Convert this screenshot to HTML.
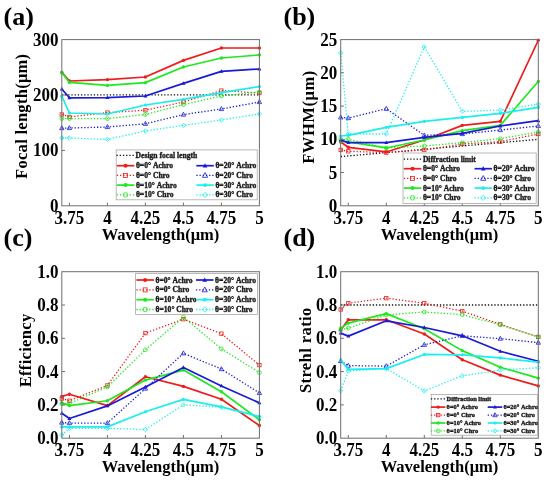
<!DOCTYPE html>
<html><head><meta charset="utf-8"><style>
html,body{margin:0;padding:0;background:#fff;width:550px;height:482px;overflow:hidden}
svg{display:block}
text{font-family:'Liberation Serif', 'Times New Roman', serif;font-weight:bold;fill:#000}
.t{font-size:17px}
.al{font-size:16.5px}
.pl{font-size:26px}
.lg{fill:#1a1a1a;stroke:#1a1a1a;stroke-width:0.35px}
</style></head><body>
<svg width="550" height="482" viewBox="0 0 550 482">
<rect width="550" height="482" fill="#fff"/>
<rect x="61.80" y="39.60" width="197.60" height="166.20" fill="#fff" stroke="none"/>
<rect x="340.70" y="39.60" width="197.60" height="166.20" fill="#fff" stroke="none"/>
<rect x="61.80" y="271.70" width="197.60" height="166.50" fill="#fff" stroke="none"/>
<rect x="340.70" y="271.70" width="197.60" height="166.50" fill="#fff" stroke="none"/>
<line x1="61.80" y1="94.90" x2="259.40" y2="94.90" stroke="#111" stroke-width="1.3" stroke-dasharray="1.3 1.9"/>
<path d="M61.80,72.40 L69.40,81.00 L107.40,79.60 L145.40,77.00 L183.40,60.40 L221.40,48.00 L259.40,48.00" fill="none" stroke="#ee1c1c" stroke-width="1.7" stroke-linejoin="round"/><circle cx="61.80" cy="72.40" r="1.70" fill="#ee1c1c"/><circle cx="69.40" cy="81.00" r="1.70" fill="#ee1c1c"/><circle cx="107.40" cy="79.60" r="1.70" fill="#ee1c1c"/><circle cx="145.40" cy="77.00" r="1.70" fill="#ee1c1c"/><circle cx="183.40" cy="60.40" r="1.70" fill="#ee1c1c"/><circle cx="221.40" cy="48.00" r="1.70" fill="#ee1c1c"/><circle cx="259.40" cy="48.00" r="1.70" fill="#ee1c1c"/>
<path d="M61.80,114.50 L69.40,117.00 L107.40,112.60 L145.40,110.20 L183.40,102.00 L221.40,90.60 L259.40,93.00" fill="none" stroke="#ee1c1c" stroke-width="1.3" stroke-dasharray="1.3 1.9"/><rect x="60.10" y="112.80" width="3.40" height="3.40" fill="none" stroke="#ee1c1c" stroke-width="0.8"/><rect x="67.70" y="115.30" width="3.40" height="3.40" fill="none" stroke="#ee1c1c" stroke-width="0.8"/><rect x="105.70" y="110.90" width="3.40" height="3.40" fill="none" stroke="#ee1c1c" stroke-width="0.8"/><rect x="143.70" y="108.50" width="3.40" height="3.40" fill="none" stroke="#ee1c1c" stroke-width="0.8"/><rect x="181.70" y="100.30" width="3.40" height="3.40" fill="none" stroke="#ee1c1c" stroke-width="0.8"/><rect x="219.70" y="88.90" width="3.40" height="3.40" fill="none" stroke="#ee1c1c" stroke-width="0.8"/><rect x="257.70" y="91.30" width="3.40" height="3.40" fill="none" stroke="#ee1c1c" stroke-width="0.8"/>
<path d="M61.80,72.40 L69.40,82.40 L107.40,85.40 L145.40,82.60 L183.40,67.00 L221.40,58.00 L259.40,55.00" fill="none" stroke="#1ee81e" stroke-width="1.7" stroke-linejoin="round"/><circle cx="61.80" cy="72.40" r="1.70" fill="#1ee81e"/><circle cx="69.40" cy="82.40" r="1.70" fill="#1ee81e"/><circle cx="107.40" cy="85.40" r="1.70" fill="#1ee81e"/><circle cx="145.40" cy="82.60" r="1.70" fill="#1ee81e"/><circle cx="183.40" cy="67.00" r="1.70" fill="#1ee81e"/><circle cx="221.40" cy="58.00" r="1.70" fill="#1ee81e"/><circle cx="259.40" cy="55.00" r="1.70" fill="#1ee81e"/>
<path d="M61.80,118.60 L69.40,118.60 L107.40,118.60 L145.40,114.50 L183.40,104.60 L221.40,96.00 L259.40,92.00" fill="none" stroke="#1ee81e" stroke-width="1.3" stroke-dasharray="1.3 1.9"/><circle cx="61.80" cy="118.60" r="1.90" fill="none" stroke="#1ee81e" stroke-width="0.8"/><circle cx="69.40" cy="118.60" r="1.90" fill="none" stroke="#1ee81e" stroke-width="0.8"/><circle cx="107.40" cy="118.60" r="1.90" fill="none" stroke="#1ee81e" stroke-width="0.8"/><circle cx="145.40" cy="114.50" r="1.90" fill="none" stroke="#1ee81e" stroke-width="0.8"/><circle cx="183.40" cy="104.60" r="1.90" fill="none" stroke="#1ee81e" stroke-width="0.8"/><circle cx="221.40" cy="96.00" r="1.90" fill="none" stroke="#1ee81e" stroke-width="0.8"/><circle cx="259.40" cy="92.00" r="1.90" fill="none" stroke="#1ee81e" stroke-width="0.8"/>
<path d="M61.80,89.00 L69.40,97.80 L107.40,97.60 L145.40,96.00 L183.40,83.40 L221.40,71.40 L259.40,69.00" fill="none" stroke="#1a1ad8" stroke-width="1.7" stroke-linejoin="round"/><path d="M61.80,86.84L63.78,90.44L59.82,90.44Z" fill="#1a1ad8"/><path d="M69.40,95.64L71.38,99.24L67.42,99.24Z" fill="#1a1ad8"/><path d="M107.40,95.44L109.38,99.04L105.42,99.04Z" fill="#1a1ad8"/><path d="M145.40,93.84L147.38,97.44L143.42,97.44Z" fill="#1a1ad8"/><path d="M183.40,81.24L185.38,84.84L181.42,84.84Z" fill="#1a1ad8"/><path d="M221.40,69.24L223.38,72.84L219.42,72.84Z" fill="#1a1ad8"/><path d="M259.40,66.84L261.38,70.44L257.42,70.44Z" fill="#1a1ad8"/>
<path d="M61.80,128.10 L69.40,128.00 L107.40,127.00 L145.40,123.80 L183.40,114.60 L221.40,109.00 L259.40,102.00" fill="none" stroke="#1a1ad8" stroke-width="1.3" stroke-dasharray="1.3 1.9"/><path d="M61.80,125.70L64.00,129.70L59.60,129.70Z" fill="none" stroke="#1a1ad8" stroke-width="0.8"/><path d="M69.40,125.60L71.60,129.60L67.20,129.60Z" fill="none" stroke="#1a1ad8" stroke-width="0.8"/><path d="M107.40,124.60L109.60,128.60L105.20,128.60Z" fill="none" stroke="#1a1ad8" stroke-width="0.8"/><path d="M145.40,121.40L147.60,125.40L143.20,125.40Z" fill="none" stroke="#1a1ad8" stroke-width="0.8"/><path d="M183.40,112.20L185.60,116.20L181.20,116.20Z" fill="none" stroke="#1a1ad8" stroke-width="0.8"/><path d="M221.40,106.60L223.60,110.60L219.20,110.60Z" fill="none" stroke="#1a1ad8" stroke-width="0.8"/><path d="M259.40,99.60L261.60,103.60L257.20,103.60Z" fill="none" stroke="#1a1ad8" stroke-width="0.8"/>
<path d="M61.80,96.20 L69.40,113.00 L107.40,114.00 L145.40,105.00 L183.40,99.40 L221.40,92.60 L259.40,86.60" fill="none" stroke="#1ceeee" stroke-width="1.7" stroke-linejoin="round"/><circle cx="61.80" cy="96.20" r="1.60" fill="#1ceeee"/><circle cx="69.40" cy="113.00" r="1.60" fill="#1ceeee"/><circle cx="107.40" cy="114.00" r="1.60" fill="#1ceeee"/><circle cx="145.40" cy="105.00" r="1.60" fill="#1ceeee"/><circle cx="183.40" cy="99.40" r="1.60" fill="#1ceeee"/><circle cx="221.40" cy="92.60" r="1.60" fill="#1ceeee"/><circle cx="259.40" cy="86.60" r="1.60" fill="#1ceeee"/>
<path d="M61.80,138.00 L69.40,138.00 L107.40,139.40 L145.40,131.00 L183.40,125.40 L221.40,120.00 L259.40,114.00" fill="none" stroke="#1ceeee" stroke-width="1.3" stroke-dasharray="1.3 1.9"/><path d="M61.80,135.80L64.00,138.00L61.80,140.20L59.60,138.00Z" fill="none" stroke="#1ceeee" stroke-width="0.8"/><path d="M69.40,135.80L71.60,138.00L69.40,140.20L67.20,138.00Z" fill="none" stroke="#1ceeee" stroke-width="0.8"/><path d="M107.40,137.20L109.60,139.40L107.40,141.60L105.20,139.40Z" fill="none" stroke="#1ceeee" stroke-width="0.8"/><path d="M145.40,128.80L147.60,131.00L145.40,133.20L143.20,131.00Z" fill="none" stroke="#1ceeee" stroke-width="0.8"/><path d="M183.40,123.20L185.60,125.40L183.40,127.60L181.20,125.40Z" fill="none" stroke="#1ceeee" stroke-width="0.8"/><path d="M221.40,117.80L223.60,120.00L221.40,122.20L219.20,120.00Z" fill="none" stroke="#1ceeee" stroke-width="0.8"/><path d="M259.40,111.80L261.60,114.00L259.40,116.20L257.20,114.00Z" fill="none" stroke="#1ceeee" stroke-width="0.8"/>
<line x1="340.70" y1="156.60" x2="538.30" y2="139.32" stroke="#111" stroke-width="1.3" stroke-dasharray="1.3 1.9"/>
<path d="M340.70,141.98 L348.30,147.30 L386.30,151.95 L424.30,139.98 L462.30,125.36 L500.30,121.37 L538.30,40.26" fill="none" stroke="#ee1c1c" stroke-width="1.7" stroke-linejoin="round"/><circle cx="340.70" cy="141.98" r="1.70" fill="#ee1c1c"/><circle cx="348.30" cy="147.30" r="1.70" fill="#ee1c1c"/><circle cx="386.30" cy="151.95" r="1.70" fill="#ee1c1c"/><circle cx="424.30" cy="139.98" r="1.70" fill="#ee1c1c"/><circle cx="462.30" cy="125.36" r="1.70" fill="#ee1c1c"/><circle cx="500.30" cy="121.37" r="1.70" fill="#ee1c1c"/><circle cx="538.30" cy="40.26" r="1.70" fill="#ee1c1c"/>
<path d="M340.70,149.96 L348.30,151.29 L386.30,152.62 L424.30,149.96 L462.30,143.97 L500.30,141.65 L538.30,134.00" fill="none" stroke="#ee1c1c" stroke-width="1.3" stroke-dasharray="1.3 1.9"/><rect x="339.00" y="148.26" width="3.40" height="3.40" fill="none" stroke="#ee1c1c" stroke-width="0.8"/><rect x="346.60" y="149.59" width="3.40" height="3.40" fill="none" stroke="#ee1c1c" stroke-width="0.8"/><rect x="384.60" y="150.92" width="3.40" height="3.40" fill="none" stroke="#ee1c1c" stroke-width="0.8"/><rect x="422.60" y="148.26" width="3.40" height="3.40" fill="none" stroke="#ee1c1c" stroke-width="0.8"/><rect x="460.60" y="142.27" width="3.40" height="3.40" fill="none" stroke="#ee1c1c" stroke-width="0.8"/><rect x="498.60" y="139.95" width="3.40" height="3.40" fill="none" stroke="#ee1c1c" stroke-width="0.8"/><rect x="536.60" y="132.30" width="3.40" height="3.40" fill="none" stroke="#ee1c1c" stroke-width="0.8"/>
<path d="M340.70,141.31 L348.30,141.98 L386.30,147.96 L424.30,139.98 L462.30,130.68 L500.30,125.36 L538.30,81.48" fill="none" stroke="#1ee81e" stroke-width="1.7" stroke-linejoin="round"/><circle cx="340.70" cy="141.31" r="1.70" fill="#1ee81e"/><circle cx="348.30" cy="141.98" r="1.70" fill="#1ee81e"/><circle cx="386.30" cy="147.96" r="1.70" fill="#1ee81e"/><circle cx="424.30" cy="139.98" r="1.70" fill="#1ee81e"/><circle cx="462.30" cy="130.68" r="1.70" fill="#1ee81e"/><circle cx="500.30" cy="125.36" r="1.70" fill="#1ee81e"/><circle cx="538.30" cy="81.48" r="1.70" fill="#1ee81e"/>
<path d="M340.70,139.32 L348.30,139.32 L386.30,147.96 L424.30,145.97 L462.30,142.64 L500.30,138.66 L538.30,132.01" fill="none" stroke="#1ee81e" stroke-width="1.3" stroke-dasharray="1.3 1.9"/><circle cx="340.70" cy="139.32" r="1.90" fill="none" stroke="#1ee81e" stroke-width="0.8"/><circle cx="348.30" cy="139.32" r="1.90" fill="none" stroke="#1ee81e" stroke-width="0.8"/><circle cx="386.30" cy="147.96" r="1.90" fill="none" stroke="#1ee81e" stroke-width="0.8"/><circle cx="424.30" cy="145.97" r="1.90" fill="none" stroke="#1ee81e" stroke-width="0.8"/><circle cx="462.30" cy="142.64" r="1.90" fill="none" stroke="#1ee81e" stroke-width="0.8"/><circle cx="500.30" cy="138.66" r="1.90" fill="none" stroke="#1ee81e" stroke-width="0.8"/><circle cx="538.30" cy="132.01" r="1.90" fill="none" stroke="#1ee81e" stroke-width="0.8"/>
<path d="M340.70,139.98 L348.30,142.64 L386.30,142.64 L424.30,137.33 L462.30,133.34 L500.30,126.02 L538.30,120.71" fill="none" stroke="#1a1ad8" stroke-width="1.7" stroke-linejoin="round"/><path d="M340.70,137.82L342.68,141.42L338.72,141.42Z" fill="#1a1ad8"/><path d="M348.30,140.48L350.28,144.08L346.32,144.08Z" fill="#1a1ad8"/><path d="M386.30,140.48L388.28,144.08L384.32,144.08Z" fill="#1a1ad8"/><path d="M424.30,135.17L426.28,138.77L422.32,138.77Z" fill="#1a1ad8"/><path d="M462.30,131.18L464.28,134.78L460.32,134.78Z" fill="#1a1ad8"/><path d="M500.30,123.86L502.28,127.46L498.32,127.46Z" fill="#1a1ad8"/><path d="M538.30,118.55L540.28,122.15L536.32,122.15Z" fill="#1a1ad8"/>
<path d="M340.70,117.38 L348.30,118.05 L386.30,108.74 L424.30,135.33 L462.30,134.00 L500.30,130.01 L538.30,126.02" fill="none" stroke="#1a1ad8" stroke-width="1.3" stroke-dasharray="1.3 1.9"/><path d="M340.70,114.98L342.90,118.98L338.50,118.98Z" fill="none" stroke="#1a1ad8" stroke-width="0.8"/><path d="M348.30,115.65L350.50,119.65L346.10,119.65Z" fill="none" stroke="#1a1ad8" stroke-width="0.8"/><path d="M386.30,106.34L388.50,110.34L384.10,110.34Z" fill="none" stroke="#1a1ad8" stroke-width="0.8"/><path d="M424.30,132.93L426.50,136.93L422.10,136.93Z" fill="none" stroke="#1a1ad8" stroke-width="0.8"/><path d="M462.30,131.60L464.50,135.60L460.10,135.60Z" fill="none" stroke="#1a1ad8" stroke-width="0.8"/><path d="M500.30,127.61L502.50,131.61L498.10,131.61Z" fill="none" stroke="#1a1ad8" stroke-width="0.8"/><path d="M538.30,123.62L540.50,127.62L536.10,127.62Z" fill="none" stroke="#1a1ad8" stroke-width="0.8"/>
<path d="M340.70,136.00 L348.30,135.33 L386.30,127.35 L424.30,121.37 L462.30,117.38 L500.30,113.39 L538.30,107.41" fill="none" stroke="#1ceeee" stroke-width="1.7" stroke-linejoin="round"/><circle cx="340.70" cy="136.00" r="1.60" fill="#1ceeee"/><circle cx="348.30" cy="135.33" r="1.60" fill="#1ceeee"/><circle cx="386.30" cy="127.35" r="1.60" fill="#1ceeee"/><circle cx="424.30" cy="121.37" r="1.60" fill="#1ceeee"/><circle cx="462.30" cy="117.38" r="1.60" fill="#1ceeee"/><circle cx="500.30" cy="113.39" r="1.60" fill="#1ceeee"/><circle cx="538.30" cy="107.41" r="1.60" fill="#1ceeee"/>
<path d="M340.70,52.90 L348.30,134.00 L386.30,134.00 L424.30,46.91 L462.30,111.40 L500.30,110.07 L538.30,104.09" fill="none" stroke="#1ceeee" stroke-width="1.3" stroke-dasharray="1.3 1.9"/><path d="M340.70,50.70L342.90,52.90L340.70,55.10L338.50,52.90Z" fill="none" stroke="#1ceeee" stroke-width="0.8"/><path d="M348.30,131.80L350.50,134.00L348.30,136.20L346.10,134.00Z" fill="none" stroke="#1ceeee" stroke-width="0.8"/><path d="M386.30,131.80L388.50,134.00L386.30,136.20L384.10,134.00Z" fill="none" stroke="#1ceeee" stroke-width="0.8"/><path d="M424.30,44.71L426.50,46.91L424.30,49.11L422.10,46.91Z" fill="none" stroke="#1ceeee" stroke-width="0.8"/><path d="M462.30,109.20L464.50,111.40L462.30,113.60L460.10,111.40Z" fill="none" stroke="#1ceeee" stroke-width="0.8"/><path d="M500.30,107.87L502.50,110.07L500.30,112.27L498.10,110.07Z" fill="none" stroke="#1ceeee" stroke-width="0.8"/><path d="M538.30,101.89L540.50,104.09L538.30,106.29L536.10,104.09Z" fill="none" stroke="#1ceeee" stroke-width="0.8"/>
<path d="M61.80,396.41 L69.40,394.24 L107.40,405.57 L145.40,376.76 L183.40,386.42 L221.40,399.24 L259.40,425.55" fill="none" stroke="#ee1c1c" stroke-width="1.7" stroke-linejoin="round"/><circle cx="61.80" cy="396.41" r="1.70" fill="#ee1c1c"/><circle cx="69.40" cy="394.24" r="1.70" fill="#ee1c1c"/><circle cx="107.40" cy="405.57" r="1.70" fill="#ee1c1c"/><circle cx="145.40" cy="376.76" r="1.70" fill="#ee1c1c"/><circle cx="183.40" cy="386.42" r="1.70" fill="#ee1c1c"/><circle cx="221.40" cy="399.24" r="1.70" fill="#ee1c1c"/><circle cx="259.40" cy="425.55" r="1.70" fill="#ee1c1c"/>
<path d="M61.80,398.57 L69.40,400.74 L107.40,385.42 L145.40,333.14 L183.40,319.15 L221.40,333.64 L259.40,365.11" fill="none" stroke="#ee1c1c" stroke-width="1.3" stroke-dasharray="1.3 1.9"/><rect x="60.10" y="396.87" width="3.40" height="3.40" fill="none" stroke="#ee1c1c" stroke-width="0.8"/><rect x="67.70" y="399.04" width="3.40" height="3.40" fill="none" stroke="#ee1c1c" stroke-width="0.8"/><rect x="105.70" y="383.72" width="3.40" height="3.40" fill="none" stroke="#ee1c1c" stroke-width="0.8"/><rect x="143.70" y="331.44" width="3.40" height="3.40" fill="none" stroke="#ee1c1c" stroke-width="0.8"/><rect x="181.70" y="317.45" width="3.40" height="3.40" fill="none" stroke="#ee1c1c" stroke-width="0.8"/><rect x="219.70" y="331.94" width="3.40" height="3.40" fill="none" stroke="#ee1c1c" stroke-width="0.8"/><rect x="257.70" y="363.41" width="3.40" height="3.40" fill="none" stroke="#ee1c1c" stroke-width="0.8"/>
<path d="M61.80,402.90 L69.40,405.57 L107.40,400.74 L145.40,380.09 L183.40,370.10 L221.40,391.75 L259.40,419.72" fill="none" stroke="#1ee81e" stroke-width="1.7" stroke-linejoin="round"/><circle cx="61.80" cy="402.90" r="1.70" fill="#1ee81e"/><circle cx="69.40" cy="405.57" r="1.70" fill="#1ee81e"/><circle cx="107.40" cy="400.74" r="1.70" fill="#1ee81e"/><circle cx="145.40" cy="380.09" r="1.70" fill="#1ee81e"/><circle cx="183.40" cy="370.10" r="1.70" fill="#1ee81e"/><circle cx="221.40" cy="391.75" r="1.70" fill="#1ee81e"/><circle cx="259.40" cy="419.72" r="1.70" fill="#1ee81e"/>
<path d="M61.80,403.73 L69.40,403.40 L107.40,386.92 L145.40,349.79 L183.40,317.15 L221.40,348.79 L259.40,372.60" fill="none" stroke="#1ee81e" stroke-width="1.3" stroke-dasharray="1.3 1.9"/><circle cx="61.80" cy="403.73" r="1.90" fill="none" stroke="#1ee81e" stroke-width="0.8"/><circle cx="69.40" cy="403.40" r="1.90" fill="none" stroke="#1ee81e" stroke-width="0.8"/><circle cx="107.40" cy="386.92" r="1.90" fill="none" stroke="#1ee81e" stroke-width="0.8"/><circle cx="145.40" cy="349.79" r="1.90" fill="none" stroke="#1ee81e" stroke-width="0.8"/><circle cx="183.40" cy="317.15" r="1.90" fill="none" stroke="#1ee81e" stroke-width="0.8"/><circle cx="221.40" cy="348.79" r="1.90" fill="none" stroke="#1ee81e" stroke-width="0.8"/><circle cx="259.40" cy="372.60" r="1.90" fill="none" stroke="#1ee81e" stroke-width="0.8"/>
<path d="M61.80,413.22 L69.40,418.55 L107.40,405.90 L145.40,386.92 L183.40,367.44 L221.40,385.92 L259.40,402.90" fill="none" stroke="#1a1ad8" stroke-width="1.7" stroke-linejoin="round"/><path d="M61.80,411.06L63.78,414.66L59.82,414.66Z" fill="#1a1ad8"/><path d="M69.40,416.39L71.38,419.99L67.42,419.99Z" fill="#1a1ad8"/><path d="M107.40,403.74L109.38,407.34L105.42,407.34Z" fill="#1a1ad8"/><path d="M145.40,384.76L147.38,388.36L143.42,388.36Z" fill="#1a1ad8"/><path d="M183.40,365.28L185.38,368.88L181.42,368.88Z" fill="#1a1ad8"/><path d="M221.40,383.76L223.38,387.36L219.42,387.36Z" fill="#1a1ad8"/><path d="M259.40,400.74L261.38,404.34L257.42,404.34Z" fill="#1a1ad8"/>
<path d="M61.80,422.55 L69.40,423.05 L107.40,423.05 L145.40,388.58 L183.40,353.28 L221.40,369.10 L259.40,392.91" fill="none" stroke="#1a1ad8" stroke-width="1.3" stroke-dasharray="1.3 1.9"/><path d="M61.80,420.15L64.00,424.15L59.60,424.15Z" fill="none" stroke="#1a1ad8" stroke-width="0.8"/><path d="M69.40,420.65L71.60,424.65L67.20,424.65Z" fill="none" stroke="#1a1ad8" stroke-width="0.8"/><path d="M107.40,420.65L109.60,424.65L105.20,424.65Z" fill="none" stroke="#1a1ad8" stroke-width="0.8"/><path d="M145.40,386.18L147.60,390.18L143.20,390.18Z" fill="none" stroke="#1a1ad8" stroke-width="0.8"/><path d="M183.40,350.88L185.60,354.88L181.20,354.88Z" fill="none" stroke="#1a1ad8" stroke-width="0.8"/><path d="M221.40,366.70L223.60,370.70L219.20,370.70Z" fill="none" stroke="#1a1ad8" stroke-width="0.8"/><path d="M259.40,390.51L261.60,394.51L257.20,394.51Z" fill="none" stroke="#1a1ad8" stroke-width="0.8"/>
<path d="M61.80,426.88 L69.40,426.88 L107.40,426.88 L145.40,411.73 L183.40,399.41 L221.40,406.90 L259.40,416.56" fill="none" stroke="#1ceeee" stroke-width="1.7" stroke-linejoin="round"/><circle cx="61.80" cy="426.88" r="1.60" fill="#1ceeee"/><circle cx="69.40" cy="426.88" r="1.60" fill="#1ceeee"/><circle cx="107.40" cy="426.88" r="1.60" fill="#1ceeee"/><circle cx="145.40" cy="411.73" r="1.60" fill="#1ceeee"/><circle cx="183.40" cy="399.41" r="1.60" fill="#1ceeee"/><circle cx="221.40" cy="406.90" r="1.60" fill="#1ceeee"/><circle cx="259.40" cy="416.56" r="1.60" fill="#1ceeee"/>
<path d="M61.80,435.04 L69.40,428.38 L107.40,428.38 L145.40,429.54 L183.40,404.90 L221.40,407.23 L259.40,417.22" fill="none" stroke="#1ceeee" stroke-width="1.3" stroke-dasharray="1.3 1.9"/><path d="M61.80,432.84L64.00,435.04L61.80,437.24L59.60,435.04Z" fill="none" stroke="#1ceeee" stroke-width="0.8"/><path d="M69.40,426.18L71.60,428.38L69.40,430.58L67.20,428.38Z" fill="none" stroke="#1ceeee" stroke-width="0.8"/><path d="M107.40,426.18L109.60,428.38L107.40,430.58L105.20,428.38Z" fill="none" stroke="#1ceeee" stroke-width="0.8"/><path d="M145.40,427.34L147.60,429.54L145.40,431.74L143.20,429.54Z" fill="none" stroke="#1ceeee" stroke-width="0.8"/><path d="M183.40,402.70L185.60,404.90L183.40,407.10L181.20,404.90Z" fill="none" stroke="#1ceeee" stroke-width="0.8"/><path d="M221.40,405.03L223.60,407.23L221.40,409.43L219.20,407.23Z" fill="none" stroke="#1ceeee" stroke-width="0.8"/><path d="M259.40,415.02L261.60,417.22L259.40,419.42L257.20,417.22Z" fill="none" stroke="#1ceeee" stroke-width="0.8"/>
<line x1="340.70" y1="305.00" x2="538.30" y2="305.00" stroke="#111" stroke-width="1.3" stroke-dasharray="1.3 1.9"/>
<path d="M340.70,329.97 L348.30,319.82 L386.30,319.82 L424.30,333.97 L462.30,359.78 L500.30,375.10 L538.30,385.92" fill="none" stroke="#ee1c1c" stroke-width="1.7" stroke-linejoin="round"/><circle cx="340.70" cy="329.97" r="1.70" fill="#ee1c1c"/><circle cx="348.30" cy="319.82" r="1.70" fill="#ee1c1c"/><circle cx="386.30" cy="319.82" r="1.70" fill="#ee1c1c"/><circle cx="424.30" cy="333.97" r="1.70" fill="#ee1c1c"/><circle cx="462.30" cy="359.78" r="1.70" fill="#ee1c1c"/><circle cx="500.30" cy="375.10" r="1.70" fill="#ee1c1c"/><circle cx="538.30" cy="385.92" r="1.70" fill="#ee1c1c"/>
<path d="M340.70,309.50 L348.30,303.17 L386.30,298.17 L424.30,303.17 L462.30,311.16 L500.30,324.31 L538.30,336.97" fill="none" stroke="#ee1c1c" stroke-width="1.3" stroke-dasharray="1.3 1.9"/><rect x="339.00" y="307.80" width="3.40" height="3.40" fill="none" stroke="#ee1c1c" stroke-width="0.8"/><rect x="346.60" y="301.47" width="3.40" height="3.40" fill="none" stroke="#ee1c1c" stroke-width="0.8"/><rect x="384.60" y="296.47" width="3.40" height="3.40" fill="none" stroke="#ee1c1c" stroke-width="0.8"/><rect x="422.60" y="301.47" width="3.40" height="3.40" fill="none" stroke="#ee1c1c" stroke-width="0.8"/><rect x="460.60" y="309.46" width="3.40" height="3.40" fill="none" stroke="#ee1c1c" stroke-width="0.8"/><rect x="498.60" y="322.61" width="3.40" height="3.40" fill="none" stroke="#ee1c1c" stroke-width="0.8"/><rect x="536.60" y="335.27" width="3.40" height="3.40" fill="none" stroke="#ee1c1c" stroke-width="0.8"/>
<path d="M340.70,328.14 L348.30,323.15 L386.30,313.66 L424.30,328.81 L462.30,350.62 L500.30,367.27 L538.30,378.09" fill="none" stroke="#1ee81e" stroke-width="1.7" stroke-linejoin="round"/><circle cx="340.70" cy="328.14" r="1.70" fill="#1ee81e"/><circle cx="348.30" cy="323.15" r="1.70" fill="#1ee81e"/><circle cx="386.30" cy="313.66" r="1.70" fill="#1ee81e"/><circle cx="424.30" cy="328.81" r="1.70" fill="#1ee81e"/><circle cx="462.30" cy="350.62" r="1.70" fill="#1ee81e"/><circle cx="500.30" cy="367.27" r="1.70" fill="#1ee81e"/><circle cx="538.30" cy="378.09" r="1.70" fill="#1ee81e"/>
<path d="M340.70,329.97 L348.30,328.14 L386.30,314.99 L424.30,311.99 L462.30,314.66 L500.30,324.81 L538.30,336.97" fill="none" stroke="#1ee81e" stroke-width="1.3" stroke-dasharray="1.3 1.9"/><circle cx="340.70" cy="329.97" r="1.90" fill="none" stroke="#1ee81e" stroke-width="0.8"/><circle cx="348.30" cy="328.14" r="1.90" fill="none" stroke="#1ee81e" stroke-width="0.8"/><circle cx="386.30" cy="314.99" r="1.90" fill="none" stroke="#1ee81e" stroke-width="0.8"/><circle cx="424.30" cy="311.99" r="1.90" fill="none" stroke="#1ee81e" stroke-width="0.8"/><circle cx="462.30" cy="314.66" r="1.90" fill="none" stroke="#1ee81e" stroke-width="0.8"/><circle cx="500.30" cy="324.81" r="1.90" fill="none" stroke="#1ee81e" stroke-width="0.8"/><circle cx="538.30" cy="336.97" r="1.90" fill="none" stroke="#1ee81e" stroke-width="0.8"/>
<path d="M340.70,333.14 L348.30,336.14 L386.30,320.82 L424.30,327.48 L462.30,335.80 L500.30,351.29 L538.30,361.28" fill="none" stroke="#1a1ad8" stroke-width="1.7" stroke-linejoin="round"/><path d="M340.70,330.98L342.68,334.58L338.72,334.58Z" fill="#1a1ad8"/><path d="M348.30,333.98L350.28,337.58L346.32,337.58Z" fill="#1a1ad8"/><path d="M386.30,318.66L388.28,322.26L384.32,322.26Z" fill="#1a1ad8"/><path d="M424.30,325.32L426.28,328.92L422.32,328.92Z" fill="#1a1ad8"/><path d="M462.30,333.64L464.28,337.24L460.32,337.24Z" fill="#1a1ad8"/><path d="M500.30,349.13L502.28,352.73L498.32,352.73Z" fill="#1a1ad8"/><path d="M538.30,359.12L540.28,362.72L536.32,362.72Z" fill="#1a1ad8"/>
<path d="M340.70,360.94 L348.30,365.61 L386.30,366.11 L424.30,344.79 L462.30,335.80 L500.30,338.63 L538.30,342.63" fill="none" stroke="#1a1ad8" stroke-width="1.3" stroke-dasharray="1.3 1.9"/><path d="M340.70,358.54L342.90,362.54L338.50,362.54Z" fill="none" stroke="#1a1ad8" stroke-width="0.8"/><path d="M348.30,363.21L350.50,367.21L346.10,367.21Z" fill="none" stroke="#1a1ad8" stroke-width="0.8"/><path d="M386.30,363.71L388.50,367.71L384.10,367.71Z" fill="none" stroke="#1a1ad8" stroke-width="0.8"/><path d="M424.30,342.39L426.50,346.39L422.10,346.39Z" fill="none" stroke="#1a1ad8" stroke-width="0.8"/><path d="M462.30,333.40L464.50,337.40L460.10,337.40Z" fill="none" stroke="#1a1ad8" stroke-width="0.8"/><path d="M500.30,336.23L502.50,340.23L498.10,340.23Z" fill="none" stroke="#1a1ad8" stroke-width="0.8"/><path d="M538.30,340.23L540.50,344.23L536.10,344.23Z" fill="none" stroke="#1a1ad8" stroke-width="0.8"/>
<path d="M340.70,359.94 L348.30,369.44 L386.30,368.60 L424.30,354.45 L462.30,354.78 L500.30,357.95 L538.30,362.11" fill="none" stroke="#1ceeee" stroke-width="1.7" stroke-linejoin="round"/><circle cx="340.70" cy="359.94" r="1.60" fill="#1ceeee"/><circle cx="348.30" cy="369.44" r="1.60" fill="#1ceeee"/><circle cx="386.30" cy="368.60" r="1.60" fill="#1ceeee"/><circle cx="424.30" cy="354.45" r="1.60" fill="#1ceeee"/><circle cx="462.30" cy="354.78" r="1.60" fill="#1ceeee"/><circle cx="500.30" cy="357.95" r="1.60" fill="#1ceeee"/><circle cx="538.30" cy="362.11" r="1.60" fill="#1ceeee"/>
<path d="M340.70,390.75 L348.30,371.10 L386.30,368.60 L424.30,390.91 L462.30,375.76 L500.30,370.10 L538.30,367.77" fill="none" stroke="#1ceeee" stroke-width="1.3" stroke-dasharray="1.3 1.9"/><path d="M340.70,388.55L342.90,390.75L340.70,392.95L338.50,390.75Z" fill="none" stroke="#1ceeee" stroke-width="0.8"/><path d="M348.30,368.90L350.50,371.10L348.30,373.30L346.10,371.10Z" fill="none" stroke="#1ceeee" stroke-width="0.8"/><path d="M386.30,366.40L388.50,368.60L386.30,370.80L384.10,368.60Z" fill="none" stroke="#1ceeee" stroke-width="0.8"/><path d="M424.30,388.71L426.50,390.91L424.30,393.11L422.10,390.91Z" fill="none" stroke="#1ceeee" stroke-width="0.8"/><path d="M462.30,373.56L464.50,375.76L462.30,377.96L460.10,375.76Z" fill="none" stroke="#1ceeee" stroke-width="0.8"/><path d="M500.30,367.90L502.50,370.10L500.30,372.30L498.10,370.10Z" fill="none" stroke="#1ceeee" stroke-width="0.8"/><path d="M538.30,365.57L540.50,367.77L538.30,369.97L536.10,367.77Z" fill="none" stroke="#1ceeee" stroke-width="0.8"/>
<rect x="61.80" y="39.60" width="197.60" height="166.20" fill="none" stroke="#6e6e6e" stroke-width="1"/>
<line x1="69.40" y1="205.80" x2="69.40" y2="202.60" stroke="#6e6e6e" stroke-width="1"/>
<line x1="107.40" y1="205.80" x2="107.40" y2="202.60" stroke="#6e6e6e" stroke-width="1"/>
<line x1="145.40" y1="205.80" x2="145.40" y2="202.60" stroke="#6e6e6e" stroke-width="1"/>
<line x1="183.40" y1="205.80" x2="183.40" y2="202.60" stroke="#6e6e6e" stroke-width="1"/>
<line x1="221.40" y1="205.80" x2="221.40" y2="202.60" stroke="#6e6e6e" stroke-width="1"/>
<line x1="61.80" y1="150.40" x2="65.00" y2="150.40" stroke="#6e6e6e" stroke-width="1"/>
<line x1="61.80" y1="95.00" x2="65.00" y2="95.00" stroke="#6e6e6e" stroke-width="1"/>
<rect x="340.70" y="39.60" width="197.60" height="166.20" fill="none" stroke="#6e6e6e" stroke-width="1"/>
<line x1="348.30" y1="205.80" x2="348.30" y2="202.60" stroke="#6e6e6e" stroke-width="1"/>
<line x1="386.30" y1="205.80" x2="386.30" y2="202.60" stroke="#6e6e6e" stroke-width="1"/>
<line x1="424.30" y1="205.80" x2="424.30" y2="202.60" stroke="#6e6e6e" stroke-width="1"/>
<line x1="462.30" y1="205.80" x2="462.30" y2="202.60" stroke="#6e6e6e" stroke-width="1"/>
<line x1="500.30" y1="205.80" x2="500.30" y2="202.60" stroke="#6e6e6e" stroke-width="1"/>
<line x1="340.70" y1="172.56" x2="343.90" y2="172.56" stroke="#6e6e6e" stroke-width="1"/>
<line x1="340.70" y1="139.32" x2="343.90" y2="139.32" stroke="#6e6e6e" stroke-width="1"/>
<line x1="340.70" y1="106.08" x2="343.90" y2="106.08" stroke="#6e6e6e" stroke-width="1"/>
<line x1="340.70" y1="72.84" x2="343.90" y2="72.84" stroke="#6e6e6e" stroke-width="1"/>
<rect x="61.80" y="271.70" width="197.60" height="166.50" fill="none" stroke="#6e6e6e" stroke-width="1"/>
<line x1="69.40" y1="438.20" x2="69.40" y2="435.00" stroke="#6e6e6e" stroke-width="1"/>
<line x1="107.40" y1="438.20" x2="107.40" y2="435.00" stroke="#6e6e6e" stroke-width="1"/>
<line x1="145.40" y1="438.20" x2="145.40" y2="435.00" stroke="#6e6e6e" stroke-width="1"/>
<line x1="183.40" y1="438.20" x2="183.40" y2="435.00" stroke="#6e6e6e" stroke-width="1"/>
<line x1="221.40" y1="438.20" x2="221.40" y2="435.00" stroke="#6e6e6e" stroke-width="1"/>
<line x1="61.80" y1="404.90" x2="65.00" y2="404.90" stroke="#6e6e6e" stroke-width="1"/>
<line x1="61.80" y1="371.60" x2="65.00" y2="371.60" stroke="#6e6e6e" stroke-width="1"/>
<line x1="61.80" y1="338.30" x2="65.00" y2="338.30" stroke="#6e6e6e" stroke-width="1"/>
<line x1="61.80" y1="305.00" x2="65.00" y2="305.00" stroke="#6e6e6e" stroke-width="1"/>
<rect x="340.70" y="271.70" width="197.60" height="166.50" fill="none" stroke="#6e6e6e" stroke-width="1"/>
<line x1="348.30" y1="438.20" x2="348.30" y2="435.00" stroke="#6e6e6e" stroke-width="1"/>
<line x1="386.30" y1="438.20" x2="386.30" y2="435.00" stroke="#6e6e6e" stroke-width="1"/>
<line x1="424.30" y1="438.20" x2="424.30" y2="435.00" stroke="#6e6e6e" stroke-width="1"/>
<line x1="462.30" y1="438.20" x2="462.30" y2="435.00" stroke="#6e6e6e" stroke-width="1"/>
<line x1="500.30" y1="438.20" x2="500.30" y2="435.00" stroke="#6e6e6e" stroke-width="1"/>
<line x1="340.70" y1="404.90" x2="343.90" y2="404.90" stroke="#6e6e6e" stroke-width="1"/>
<line x1="340.70" y1="371.60" x2="343.90" y2="371.60" stroke="#6e6e6e" stroke-width="1"/>
<line x1="340.70" y1="338.30" x2="343.90" y2="338.30" stroke="#6e6e6e" stroke-width="1"/>
<line x1="340.70" y1="305.00" x2="343.90" y2="305.00" stroke="#6e6e6e" stroke-width="1"/>
<rect x="116.20" y="149.90" width="141.00" height="49.90" fill="#fff" stroke="#a8a8a8" stroke-width="0.8"/>
<line x1="116.50" y1="155.30" x2="134.00" y2="155.30" stroke="#111" stroke-width="1.3" stroke-dasharray="1.3 1.9"/>
<text x="135.60" y="157.81" font-size="7.6" class="lg">Design focal length</text>
<line x1="116.80" y1="165.70" x2="134.30" y2="165.70" stroke="#ee1c1c" stroke-width="1.7"/>
<circle cx="125.55" cy="165.70" r="2.02" fill="#ee1c1c"/>
<text x="135.90" y="168.21" font-size="7.6" class="lg">θ=0° Achro</text>
<line x1="116.80" y1="175.40" x2="134.30" y2="175.40" stroke="#ee1c1c" stroke-width="1.3" stroke-dasharray="1.3 1.9"/>
<rect x="123.53" y="173.38" width="4.04" height="4.04" fill="none" stroke="#ee1c1c" stroke-width="0.8"/>
<text x="135.90" y="177.91" font-size="7.6" class="lg">θ=0° Chro</text>
<line x1="116.80" y1="185.10" x2="134.30" y2="185.10" stroke="#1ee81e" stroke-width="1.7"/>
<circle cx="125.55" cy="185.10" r="2.02" fill="#1ee81e"/>
<text x="135.90" y="187.61" font-size="7.6" class="lg">θ=10° Achro</text>
<line x1="116.80" y1="194.90" x2="134.30" y2="194.90" stroke="#1ee81e" stroke-width="1.3" stroke-dasharray="1.3 1.9"/>
<circle cx="125.55" cy="194.90" r="2.26" fill="none" stroke="#1ee81e" stroke-width="0.8"/>
<text x="135.90" y="197.41" font-size="7.6" class="lg">θ=10° Chro</text>
<line x1="196.30" y1="165.70" x2="213.80" y2="165.70" stroke="#1a1ad8" stroke-width="1.7"/>
<path d="M205.05,163.13L207.40,167.41L202.70,167.41Z" fill="#1a1ad8"/>
<text x="215.40" y="168.21" font-size="7.6" class="lg">θ=20° Achro</text>
<line x1="196.30" y1="175.40" x2="213.80" y2="175.40" stroke="#1a1ad8" stroke-width="1.3" stroke-dasharray="1.3 1.9"/>
<path d="M205.05,172.55L207.66,177.30L202.44,177.30Z" fill="none" stroke="#1a1ad8" stroke-width="0.8"/>
<text x="215.40" y="177.91" font-size="7.6" class="lg">θ=20° Chro</text>
<line x1="196.30" y1="185.10" x2="213.80" y2="185.10" stroke="#1ceeee" stroke-width="1.7"/>
<circle cx="205.05" cy="185.10" r="1.90" fill="#1ceeee"/>
<text x="215.40" y="187.61" font-size="7.6" class="lg">θ=30° Achro</text>
<line x1="196.30" y1="194.90" x2="213.80" y2="194.90" stroke="#1ceeee" stroke-width="1.3" stroke-dasharray="1.3 1.9"/>
<path d="M205.05,192.29L207.66,194.90L205.05,197.51L202.44,194.90Z" fill="none" stroke="#1ceeee" stroke-width="0.8"/>
<text x="215.40" y="197.41" font-size="7.6" class="lg">θ=30° Chro</text>
<rect x="403.00" y="153.00" width="133.20" height="50.40" fill="#fff" stroke="#a8a8a8" stroke-width="0.8"/>
<line x1="403.80" y1="159.10" x2="421.30" y2="159.10" stroke="#111" stroke-width="1.3" stroke-dasharray="1.3 1.9"/>
<text x="422.90" y="161.61" font-size="7.6" class="lg">Diffraction limit</text>
<line x1="403.80" y1="168.70" x2="421.30" y2="168.70" stroke="#ee1c1c" stroke-width="1.7"/>
<circle cx="412.55" cy="168.70" r="2.02" fill="#ee1c1c"/>
<text x="422.90" y="171.21" font-size="7.6" class="lg">θ=0° Achro</text>
<line x1="403.80" y1="178.40" x2="421.30" y2="178.40" stroke="#ee1c1c" stroke-width="1.3" stroke-dasharray="1.3 1.9"/>
<rect x="410.53" y="176.38" width="4.04" height="4.04" fill="none" stroke="#ee1c1c" stroke-width="0.8"/>
<text x="422.90" y="180.91" font-size="7.6" class="lg">θ=0° Chro</text>
<line x1="403.80" y1="188.10" x2="421.30" y2="188.10" stroke="#1ee81e" stroke-width="1.7"/>
<circle cx="412.55" cy="188.10" r="2.02" fill="#1ee81e"/>
<text x="422.90" y="190.61" font-size="7.6" class="lg">θ=10° Achro</text>
<line x1="403.80" y1="197.80" x2="421.30" y2="197.80" stroke="#1ee81e" stroke-width="1.3" stroke-dasharray="1.3 1.9"/>
<circle cx="412.55" cy="197.80" r="2.26" fill="none" stroke="#1ee81e" stroke-width="0.8"/>
<text x="422.90" y="200.31" font-size="7.6" class="lg">θ=10° Chro</text>
<line x1="474.50" y1="168.70" x2="492.00" y2="168.70" stroke="#1a1ad8" stroke-width="1.7"/>
<path d="M483.25,166.13L485.60,170.41L480.90,170.41Z" fill="#1a1ad8"/>
<text x="493.60" y="171.21" font-size="7.6" class="lg">θ=20° Achro</text>
<line x1="474.50" y1="178.40" x2="492.00" y2="178.40" stroke="#1a1ad8" stroke-width="1.3" stroke-dasharray="1.3 1.9"/>
<path d="M483.25,175.55L485.86,180.30L480.64,180.30Z" fill="none" stroke="#1a1ad8" stroke-width="0.8"/>
<text x="493.60" y="180.91" font-size="7.6" class="lg">θ=20° Chro</text>
<line x1="474.50" y1="188.10" x2="492.00" y2="188.10" stroke="#1ceeee" stroke-width="1.7"/>
<circle cx="483.25" cy="188.10" r="1.90" fill="#1ceeee"/>
<text x="493.60" y="190.61" font-size="7.6" class="lg">θ=30° Achro</text>
<line x1="474.50" y1="197.80" x2="492.00" y2="197.80" stroke="#1ceeee" stroke-width="1.3" stroke-dasharray="1.3 1.9"/>
<path d="M483.25,195.19L485.86,197.80L483.25,200.41L480.64,197.80Z" fill="none" stroke="#1ceeee" stroke-width="0.8"/>
<text x="493.60" y="200.31" font-size="7.6" class="lg">θ=30° Chro</text>
<rect x="135.60" y="273.40" width="121.80" height="41.00" fill="#fff" stroke="#a8a8a8" stroke-width="0.8"/>
<line x1="136.40" y1="280.00" x2="153.90" y2="280.00" stroke="#ee1c1c" stroke-width="1.7"/>
<circle cx="145.15" cy="280.00" r="2.02" fill="#ee1c1c"/>
<text x="155.50" y="282.51" font-size="7.6" class="lg">θ=0° Achro</text>
<line x1="136.40" y1="289.90" x2="153.90" y2="289.90" stroke="#ee1c1c" stroke-width="1.3" stroke-dasharray="1.3 1.9"/>
<rect x="143.13" y="287.88" width="4.04" height="4.04" fill="none" stroke="#ee1c1c" stroke-width="0.8"/>
<text x="155.50" y="292.41" font-size="7.6" class="lg">θ=0° Chro</text>
<line x1="136.40" y1="299.70" x2="153.90" y2="299.70" stroke="#1ee81e" stroke-width="1.7"/>
<circle cx="145.15" cy="299.70" r="2.02" fill="#1ee81e"/>
<text x="155.50" y="302.21" font-size="7.6" class="lg">θ=10° Achro</text>
<line x1="136.40" y1="309.50" x2="153.90" y2="309.50" stroke="#1ee81e" stroke-width="1.3" stroke-dasharray="1.3 1.9"/>
<circle cx="145.15" cy="309.50" r="2.26" fill="none" stroke="#1ee81e" stroke-width="0.8"/>
<text x="155.50" y="312.01" font-size="7.6" class="lg">θ=10° Chro</text>
<line x1="196.00" y1="280.00" x2="213.50" y2="280.00" stroke="#1a1ad8" stroke-width="1.7"/>
<path d="M204.75,277.44L207.10,281.71L202.40,281.71Z" fill="#1a1ad8"/>
<text x="215.10" y="282.51" font-size="7.6" class="lg">θ=20° Achro</text>
<line x1="196.00" y1="289.90" x2="213.50" y2="289.90" stroke="#1a1ad8" stroke-width="1.3" stroke-dasharray="1.3 1.9"/>
<path d="M204.75,287.05L207.36,291.80L202.14,291.80Z" fill="none" stroke="#1a1ad8" stroke-width="0.8"/>
<text x="215.10" y="292.41" font-size="7.6" class="lg">θ=20° Chro</text>
<line x1="196.00" y1="299.70" x2="213.50" y2="299.70" stroke="#1ceeee" stroke-width="1.7"/>
<circle cx="204.75" cy="299.70" r="1.90" fill="#1ceeee"/>
<text x="215.10" y="302.21" font-size="7.6" class="lg">θ=30° Achro</text>
<line x1="196.00" y1="309.50" x2="213.50" y2="309.50" stroke="#1ceeee" stroke-width="1.3" stroke-dasharray="1.3 1.9"/>
<path d="M204.75,306.89L207.36,309.50L204.75,312.11L202.14,309.50Z" fill="none" stroke="#1ceeee" stroke-width="0.8"/>
<text x="215.10" y="312.01" font-size="7.6" class="lg">θ=30° Chro</text>
<rect x="431.20" y="394.40" width="106.40" height="40.80" fill="#fff" stroke="#a8a8a8" stroke-width="0.8"/>
<line x1="430.90" y1="398.90" x2="445.40" y2="398.90" stroke="#111" stroke-width="1.3" stroke-dasharray="1.3 1.9"/>
<text x="446.60" y="401.01" font-size="6.4" class="lg">Diffraction limit</text>
<line x1="430.90" y1="407.10" x2="445.40" y2="407.10" stroke="#ee1c1c" stroke-width="1.7"/>
<circle cx="438.15" cy="407.10" r="1.70" fill="#ee1c1c"/>
<text x="446.60" y="409.21" font-size="6.4" class="lg">θ=0° Achro</text>
<line x1="430.90" y1="415.10" x2="445.40" y2="415.10" stroke="#ee1c1c" stroke-width="1.3" stroke-dasharray="1.3 1.9"/>
<rect x="436.45" y="413.40" width="3.40" height="3.40" fill="none" stroke="#ee1c1c" stroke-width="0.8"/>
<text x="446.60" y="417.21" font-size="6.4" class="lg">θ=0° Chro</text>
<line x1="430.90" y1="423.00" x2="445.40" y2="423.00" stroke="#1ee81e" stroke-width="1.7"/>
<circle cx="438.15" cy="423.00" r="1.70" fill="#1ee81e"/>
<text x="446.60" y="425.11" font-size="6.4" class="lg">θ=10° Achro</text>
<line x1="430.90" y1="430.90" x2="445.40" y2="430.90" stroke="#1ee81e" stroke-width="1.3" stroke-dasharray="1.3 1.9"/>
<circle cx="438.15" cy="430.90" r="1.90" fill="none" stroke="#1ee81e" stroke-width="0.8"/>
<text x="446.60" y="433.01" font-size="6.4" class="lg">θ=10° Chro</text>
<line x1="487.70" y1="407.10" x2="502.20" y2="407.10" stroke="#1a1ad8" stroke-width="1.7"/>
<path d="M494.95,404.94L496.93,408.54L492.97,408.54Z" fill="#1a1ad8"/>
<text x="503.40" y="409.21" font-size="6.4" class="lg">θ=20° Achro</text>
<line x1="487.70" y1="415.10" x2="502.20" y2="415.10" stroke="#1a1ad8" stroke-width="1.3" stroke-dasharray="1.3 1.9"/>
<path d="M494.95,412.70L497.15,416.70L492.75,416.70Z" fill="none" stroke="#1a1ad8" stroke-width="0.8"/>
<text x="503.40" y="417.21" font-size="6.4" class="lg">θ=20° Chro</text>
<line x1="487.70" y1="423.00" x2="502.20" y2="423.00" stroke="#1ceeee" stroke-width="1.7"/>
<circle cx="494.95" cy="423.00" r="1.60" fill="#1ceeee"/>
<text x="503.40" y="425.11" font-size="6.4" class="lg">θ=30° Achro</text>
<line x1="487.70" y1="430.90" x2="502.20" y2="430.90" stroke="#1ceeee" stroke-width="1.3" stroke-dasharray="1.3 1.9"/>
<path d="M494.95,428.70L497.15,430.90L494.95,433.10L492.75,430.90Z" fill="none" stroke="#1ceeee" stroke-width="0.8"/>
<text x="503.40" y="433.01" font-size="6.4" class="lg">θ=30° Chro</text>
<text transform="translate(69.40,223.70) scale(1,1.06)" text-anchor="middle" class="t">3.75</text>
<text transform="translate(107.40,223.70) scale(1,1.06)" text-anchor="middle" class="t">4</text>
<text transform="translate(145.40,223.70) scale(1,1.06)" text-anchor="middle" class="t">4.25</text>
<text transform="translate(183.40,223.70) scale(1,1.06)" text-anchor="middle" class="t">4.5</text>
<text transform="translate(221.40,223.70) scale(1,1.06)" text-anchor="middle" class="t">4.75</text>
<text transform="translate(259.40,223.70) scale(1,1.06)" text-anchor="middle" class="t">5</text>
<text transform="translate(58.40,211.80) scale(1,1.06)" text-anchor="end" class="t">0</text>
<text transform="translate(58.40,156.40) scale(1,1.06)" text-anchor="end" class="t">100</text>
<text transform="translate(58.40,101.00) scale(1,1.06)" text-anchor="end" class="t">200</text>
<text transform="translate(58.40,45.60) scale(1,1.06)" text-anchor="end" class="t">300</text>
<text transform="translate(348.30,223.70) scale(1,1.06)" text-anchor="middle" class="t">3.75</text>
<text transform="translate(386.30,223.70) scale(1,1.06)" text-anchor="middle" class="t">4</text>
<text transform="translate(424.30,223.70) scale(1,1.06)" text-anchor="middle" class="t">4.25</text>
<text transform="translate(462.30,223.70) scale(1,1.06)" text-anchor="middle" class="t">4.5</text>
<text transform="translate(500.30,223.70) scale(1,1.06)" text-anchor="middle" class="t">4.75</text>
<text transform="translate(538.30,223.70) scale(1,1.06)" text-anchor="middle" class="t">5</text>
<text transform="translate(337.30,211.80) scale(1,1.06)" text-anchor="end" class="t">0</text>
<text transform="translate(337.30,178.56) scale(1,1.06)" text-anchor="end" class="t">5</text>
<text transform="translate(337.30,145.32) scale(1,1.06)" text-anchor="end" class="t">10</text>
<text transform="translate(337.30,112.08) scale(1,1.06)" text-anchor="end" class="t">15</text>
<text transform="translate(337.30,78.84) scale(1,1.06)" text-anchor="end" class="t">20</text>
<text transform="translate(337.30,45.60) scale(1,1.06)" text-anchor="end" class="t">25</text>
<text transform="translate(69.40,456.10) scale(1,1.06)" text-anchor="middle" class="t">3.75</text>
<text transform="translate(107.40,456.10) scale(1,1.06)" text-anchor="middle" class="t">4</text>
<text transform="translate(145.40,456.10) scale(1,1.06)" text-anchor="middle" class="t">4.25</text>
<text transform="translate(183.40,456.10) scale(1,1.06)" text-anchor="middle" class="t">4.5</text>
<text transform="translate(221.40,456.10) scale(1,1.06)" text-anchor="middle" class="t">4.75</text>
<text transform="translate(259.40,456.10) scale(1,1.06)" text-anchor="middle" class="t">5</text>
<text transform="translate(58.40,444.20) scale(1,1.06)" text-anchor="end" class="t">0.0</text>
<text transform="translate(58.40,410.90) scale(1,1.06)" text-anchor="end" class="t">0.2</text>
<text transform="translate(58.40,377.60) scale(1,1.06)" text-anchor="end" class="t">0.4</text>
<text transform="translate(58.40,344.30) scale(1,1.06)" text-anchor="end" class="t">0.6</text>
<text transform="translate(58.40,311.00) scale(1,1.06)" text-anchor="end" class="t">0.8</text>
<text transform="translate(58.40,277.70) scale(1,1.06)" text-anchor="end" class="t">1.0</text>
<text transform="translate(348.30,456.10) scale(1,1.06)" text-anchor="middle" class="t">3.75</text>
<text transform="translate(386.30,456.10) scale(1,1.06)" text-anchor="middle" class="t">4</text>
<text transform="translate(424.30,456.10) scale(1,1.06)" text-anchor="middle" class="t">4.25</text>
<text transform="translate(462.30,456.10) scale(1,1.06)" text-anchor="middle" class="t">4.5</text>
<text transform="translate(500.30,456.10) scale(1,1.06)" text-anchor="middle" class="t">4.75</text>
<text transform="translate(538.30,456.10) scale(1,1.06)" text-anchor="middle" class="t">5</text>
<text transform="translate(337.30,444.20) scale(1,1.06)" text-anchor="end" class="t">0.0</text>
<text transform="translate(337.30,410.90) scale(1,1.06)" text-anchor="end" class="t">0.2</text>
<text transform="translate(337.30,377.60) scale(1,1.06)" text-anchor="end" class="t">0.4</text>
<text transform="translate(337.30,344.30) scale(1,1.06)" text-anchor="end" class="t">0.6</text>
<text transform="translate(337.30,311.00) scale(1,1.06)" text-anchor="end" class="t">0.8</text>
<text transform="translate(337.30,277.70) scale(1,1.06)" text-anchor="end" class="t">1.0</text>
<text x="160.5" y="239.7" text-anchor="middle" class="al">Wavelength(μm)</text>
<text x="439.5" y="239.7" text-anchor="middle" class="al">Wavelength(μm)</text>
<text x="160.5" y="472.0" text-anchor="middle" class="al">Wavelength(μm)</text>
<text x="439.5" y="472.0" text-anchor="middle" class="al">Wavelength(μm)</text>
<text transform="translate(26.9,116.4) rotate(-90)" text-anchor="middle" class="al" textLength="125" lengthAdjust="spacing">Focal length(μm)</text>
<text transform="translate(314.0,117.3) rotate(-90)" text-anchor="middle" class="al" textLength="93" lengthAdjust="spacing">FWHM(μm)</text>
<text transform="translate(31.3,350.6) rotate(-90)" text-anchor="middle" class="al" textLength="73.5" lengthAdjust="spacing">Efficiency</text>
<text transform="translate(311.0,350.4) rotate(-90)" text-anchor="middle" class="al" textLength="85.4" lengthAdjust="spacing">Strehl ratio</text>
<text x="3.5" y="25.4" class="pl">(a)</text>
<text x="283.5" y="25.4" class="pl">(b)</text>
<text x="3.5" y="245.7" class="pl">(c)</text>
<text x="283.5" y="245.7" class="pl">(d)</text>
</svg>
</body></html>
